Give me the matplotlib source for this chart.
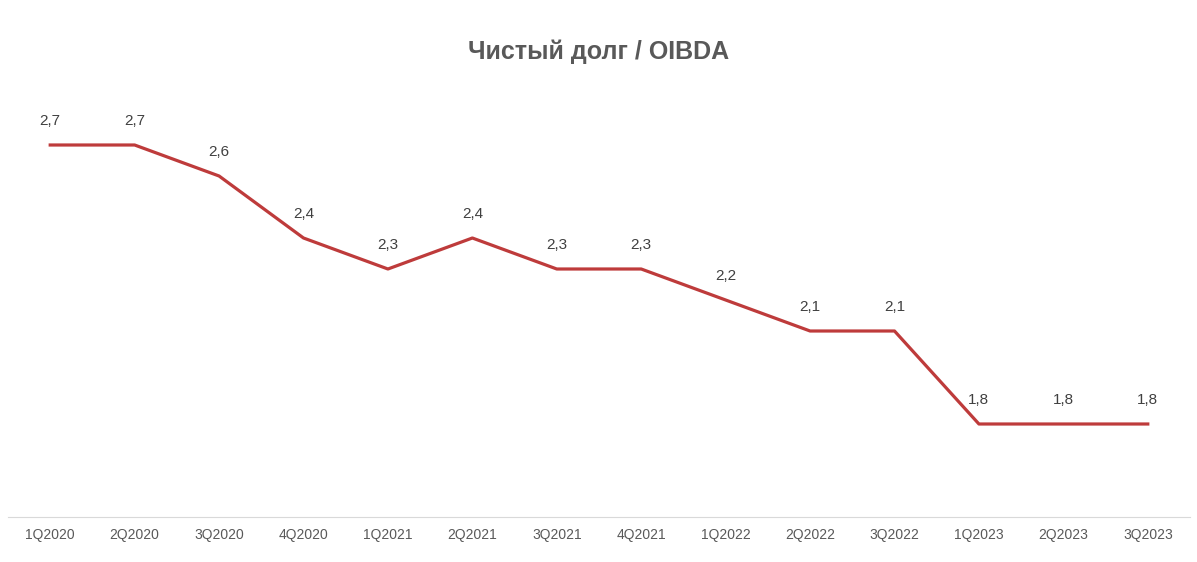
import matplotlib.pyplot as plt

plt.rcParams["font.family"] = "Liberation Sans"

quarters = ["1Q2020", "2Q2020", "3Q2020", "4Q2020", "1Q2021", "2Q2021", "3Q2021",
            "4Q2021", "1Q2022", "2Q2022", "3Q2022", "1Q2023", "2Q2023", "3Q2023"]
ratio = [2.7, 2.7, 2.6, 2.4, 2.3, 2.4, 2.3, 2.3, 2.2, 2.1, 2.1, 1.8, 1.8, 1.8]

fig = plt.figure(figsize=(11.97, 5.62), dpi=100)
ax = fig.add_axes([8 / 1197, 45 / 562, 1182 / 1197, 434 / 562])

x = list(range(len(quarters)))
ax.plot(x, ratio, color="#BE3B3B", linewidth=2.3)

for i, v in enumerate(ratio):
    label = f"{v:.1f}".replace(".", ",")
    ax.annotate(label, (i, v), xytext=(0, 12), textcoords="offset points",
                ha="center", va="bottom", fontsize=11, color="#404040")

ax.set_xlim(-0.5, len(quarters) - 0.5)
ax.set_ylim(1.5, 2.9)
ax.set_xticks(x)
ax.set_xticklabels(quarters, fontsize=10, color="#595959")
ax.tick_params(axis="x", length=0, pad=8)
ax.set_yticks([])
for s in ["top", "right", "left"]:
    ax.spines[s].set_visible(False)
ax.spines["bottom"].set_color("#D9D9D9")

fig.text(0.5, 1 - 52 / 562, "Чистый долг / OIBDA", ha="center", va="center",
         fontsize=18, fontweight="bold", color="#595959")

fig.savefig("out.png", dpi=100)
